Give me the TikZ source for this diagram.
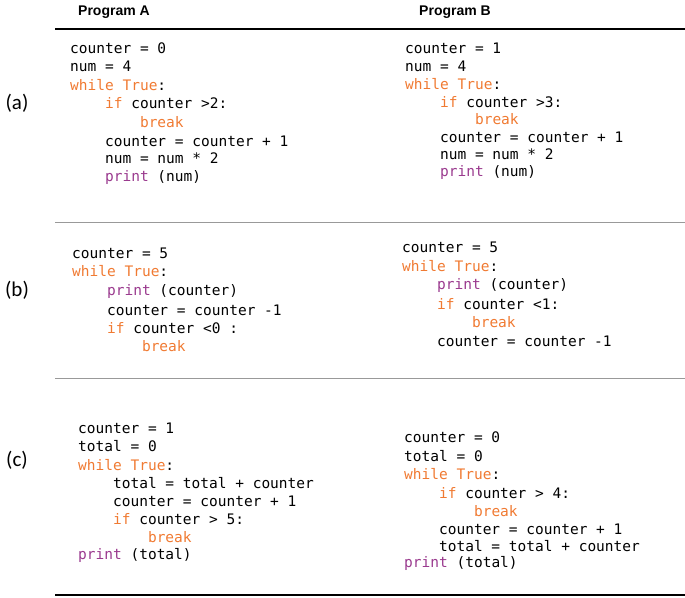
\documentclass[tikz,border=0pt]{standalone}
\usepackage{fontspec}
\setmainfont{Carlito}
\newfontfamily\codefont{DejaVu Sans Mono}
\newfontfamily\headfont{Liberation Sans}
\definecolor{kw}{HTML}{F07A32}
\definecolor{pr}{HTML}{9A3A8E}
\newcommand{\Kwd}[1]{\textcolor{kw}{#1}}
\newcommand{\Prt}[1]{\textcolor{pr}{#1}}
\newcommand{\Ind}{\hphantom{xxxx}}
\begin{document}
\begin{tikzpicture}[x=1pt,y=-1pt,
  code/.style={anchor=west,inner sep=0pt,font=\codefont\fontsize{14.5}{17}\selectfont},
  head/.style={inner sep=0pt,font=\headfont\bfseries\fontsize{14}{16}\selectfont},
  lab/.style={inner sep=0pt,font=\fontsize{21}{24}\selectfont}]
\useasboundingbox (0,0) rectangle (685,597);
\node[head] (hA) at (114,12) {Program A};
\node[head] (hB) at (455,12) {Program B};
\draw[line width=2pt] (55,29) -- (685,29);
\draw[line width=1pt,gray!80] (55,222) -- (685,222);
\draw[line width=1pt,gray!80] (55,378) -- (685,378);
\draw[line width=2pt] (55,595) -- (685,595);
\node[lab] (la) at (17,103) {(a)};
\node[lab] (lb) at (17,290) {(b)};
\node[lab] (lc) at (17,460) {(c)};
% A(a)
\node[code] (a1) at (70,48) {counter = 0};
\node[code] (a2) at (70,66) {num = 4};
\node[code] (a3) at (70,85) {\Kwd{while True}:};
\node[code] (a4) at (70,103) {\Ind\Kwd{if} counter >2:};
\node[code] (a5) at (70,122) {\Ind\Ind\Kwd{break}};
\node[code] (a6) at (70,141) {\Ind counter = counter + 1};
\node[code] (a7) at (70,158) {\Ind num = num * 2};
\node[code] (a8) at (70,177) {\Ind\Prt{print} (num)};
% B(a)
\node[code] (b1) at (405,48) {counter = 1};
\node[code] (b2) at (405,66) {num = 4};
\node[code] (b3) at (405,84) {\Kwd{while True}:};
\node[code] (b4) at (405,102) {\Ind\Kwd{if} counter >3:};
\node[code] (b5) at (405,119) {\Ind\Ind\Kwd{break}};
\node[code] (b6) at (405,137) {\Ind counter = counter + 1};
\node[code] (b7) at (405,154) {\Ind num = num * 2};
\node[code] (b8) at (405,172) {\Ind\Prt{print} (num)};
% A(b)
\node[code] (c1) at (72,253) {counter = 5};
\node[code] (c2) at (72,271) {\Kwd{while True}:};
\node[code] (c3) at (72,291) {\Ind\Prt{print} (counter)};
\node[code] (c4) at (72,310) {\Ind counter = counter -1};
\node[code] (c5) at (72,328) {\Ind\Kwd{if} counter <0 :};
\node[code] (c6) at (72,346) {\Ind\Ind\Kwd{break}};
% B(b)
\node[code] (d1) at (402,247) {counter = 5};
\node[code] (d2) at (402,266) {\Kwd{while True}:};
\node[code] (d3) at (402,285) {\Ind\Prt{print} (counter)};
\node[code] (d4) at (402,304) {\Ind\Kwd{if} counter <1:};
\node[code] (d5) at (402,322) {\Ind\Ind\Kwd{break}};
\node[code] (d6) at (402,341) {\Ind counter = counter -1};
% A(c)
\node[code] (e1) at (78,428) {counter = 1};
\node[code] (e2) at (78,446) {total = 0};
\node[code] (e3) at (78,465) {\Kwd{while True}:};
\node[code] (e4) at (78,483) {\Ind total = total + counter};
\node[code] (e5) at (78,501) {\Ind counter = counter + 1};
\node[code] (e6) at (78,519) {\Ind\Kwd{if} counter > 5:};
\node[code] (e7) at (78,537) {\Ind\Ind\Kwd{break}};
\node[code] (e8) at (78,555) {\Prt{print} (total)};
% B(c)
\node[code] (f1) at (404,437) {counter = 0};
\node[code] (f2) at (404,456) {total = 0};
\node[code] (f3) at (404,474) {\Kwd{while True}:};
\node[code] (f4) at (404,493) {\Ind\Kwd{if} counter > 4:};
\node[code] (f5) at (404,511) {\Ind\Ind\Kwd{break}};
\node[code] (f6) at (404,529) {\Ind counter = counter + 1};
\node[code] (f7) at (404,546) {\Ind total = total + counter};
\node[code] (f8) at (404,563) {\Prt{print} (total)};
\end{tikzpicture}
\end{document}
